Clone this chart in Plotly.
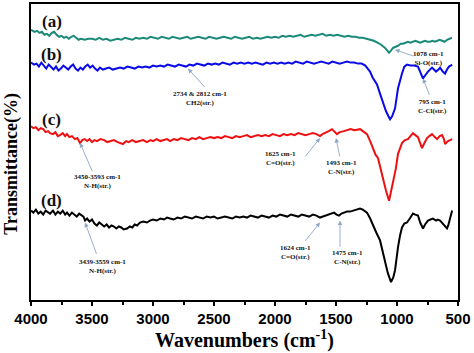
import plotly.graph_objects as go

# ---------------- data (transmittance in arbitrary offset units) ----------------
wn_a = [4000,3970,3950,3930,3910,3890,3870,3850,3830,3810,3790,3770,3750,3730,3710,3690,3670,3650,3630,3610,3590,3560,3530,3500,3470,3440,3410,3380,3350,3320,3290,3260,3230,3200,3170,3140,3110,3080,3050,3020,2990,2960,2930,2900,2870,2840,2810,2780,2750,2720,2690,2660,2630,2600,2570,2540,2510,2480,2450,2420,2390,2360,2330,2300,2270,2240,2210,2180,2150,2120,2090,2060,2030,2000,1970,1940,1910,1880,1850,1820,1790,1760,1730,1700,1670,1640,1610,1580,1550,1520,1490,1460,1430,1400,1370,1340,1310,1280,1250,1220,1190,1160,1130,1100,1080,1065,1050,1030,1010,990,970,950,930,910,890,870,850,830,810,790,770,750,730,710,690,670,650,630,610,590,570,550]
t_a = [272,270,271,269,270,267,268,266,269,270,267,265,266,264,265,263,265,266,264,262,263,262,263,263,262,264,262,263,261,262,263,262,264,263,262,264,263,264,263,265,264,263,265,264,263,265,264,263,264,265,263,264,265,264,263,265,264,263,264,265,264,263,265,264,263,264,265,263,264,263,264,265,264,265,264,266,265,266,265,266,267,265,266,267,266,267,268,266,267,266,267,266,265,266,265,265,264,264,263,262,261,259,257,254,251,249,251,254,255,256,258,258,259,260,259,260,261,260,259,260,261,260,260,261,260,261,262,261,260,262,263,264]

wn_b = [4000,3975,3955,3935,3915,3895,3875,3855,3835,3815,3795,3775,3755,3735,3715,3695,3675,3655,3635,3615,3595,3575,3555,3535,3515,3495,3475,3455,3435,3410,3385,3360,3330,3300,3270,3240,3210,3180,3150,3120,3090,3060,3030,3000,2970,2940,2910,2880,2850,2820,2790,2760,2730,2700,2670,2640,2610,2580,2550,2520,2490,2460,2430,2400,2370,2340,2310,2280,2250,2220,2190,2160,2130,2100,2070,2040,2010,1980,1950,1920,1890,1860,1830,1800,1770,1740,1710,1680,1650,1620,1590,1560,1530,1500,1470,1440,1410,1380,1350,1320,1290,1260,1240,1221,1200,1164,1140,1115,1090,1070,1057,1040,1016,992,975,959,940,918,890,860,828,810,787,770,746,713,695,680,660,647,625,606,590,574,560,548]
t_b = [239,237,238,235,239,236,233,237,234,232,235,231,233,236,234,232,235,237,233,231,234,232,235,237,234,236,233,231,234,232,233,234,232,233,234,233,235,234,233,235,234,235,234,236,235,236,235,237,236,235,237,236,235,237,236,238,237,236,238,237,238,237,239,238,237,239,238,239,238,239,238,239,238,237,239,238,239,238,239,238,239,238,240,239,238,240,239,238,239,240,239,238,240,239,238,239,240,239,239,238,238,236,233,230,224,217,208,198,190,185,182,185,193,213,222,228,235,237,236,236,235,230,223,226,230,234,232,230,232,234,230,228,232,235,236,237]

wn_c = [4000,3980,3960,3940,3920,3900,3880,3860,3844,3820,3800,3780,3762,3740,3720,3705,3685,3664,3640,3620,3598,3580,3560,3540,3520,3500,3480,3460,3430,3400,3375,3350,3320,3290,3260,3246,3220,3200,3170,3140,3110,3080,3050,3020,3000,2970,2940,2910,2885,2860,2830,2800,2770,2740,2710,2680,2650,2620,2590,2560,2530,2500,2470,2440,2410,2380,2350,2320,2290,2260,2230,2200,2170,2140,2110,2080,2050,2020,1990,1960,1930,1900,1870,1840,1810,1780,1750,1720,1690,1660,1631,1610,1590,1560,1533,1515,1492,1470,1450,1434,1410,1380,1350,1320,1303,1280,1246,1220,1197,1175,1156,1135,1115,1090,1065,1050,1033,1010,992,975,959,935,910,890,869,850,828,810,795,775,754,735,713,690,672,650,631,615,606,590,582,565,548]
t_c = [175,173,174,171,173,172,169,170,168,167,169,165,166,168,165,167,164,165,162,163,158,161,162,160,162,159,161,160,162,161,159,160,161,159,158,157,160,159,161,159,160,161,159,161,160,162,160,161,162,160,162,161,163,162,161,163,162,164,162,163,164,163,164,163,165,164,163,165,164,165,166,164,165,166,165,166,165,167,166,165,167,166,167,166,168,167,166,167,168,167,165,167,168,170,172,170,167,169,170,170,171,172,171,172,172,170,167,160,152,146,143,132,123,110,100,108,117,132,147,154,158,161,162,165,168,166,164,158,153,158,163,165,167,164,162,165,166,162,157,159,160,161,162]

wn_d = [4000,3980,3960,3940,3920,3900,3880,3860,3844,3820,3800,3780,3760,3740,3720,3705,3685,3665,3645,3625,3605,3585,3570,3557,3540,3520,3500,3480,3460,3440,3420,3400,3380,3360,3340,3320,3300,3280,3260,3240,3213,3190,3170,3150,3130,3107,3080,3050,3025,3000,2970,2940,2910,2885,2860,2830,2800,2770,2740,2710,2680,2650,2620,2590,2560,2530,2500,2470,2440,2410,2380,2350,2320,2290,2260,2230,2200,2170,2140,2110,2080,2050,2020,1990,1960,1930,1900,1870,1840,1810,1780,1750,1720,1690,1660,1631,1610,1590,1560,1540,1516,1495,1475,1455,1430,1410,1385,1360,1330,1303,1280,1246,1220,1197,1170,1139,1120,1098,1075,1049,1030,1016,1005,992,975,959,940,918,895,869,850,828,810,787,770,746,725,705,680,665,647,625,605,590,580,565,548]
t_d = [90,88,91,87,89,86,90,88,87,90,86,89,87,90,86,88,85,88,86,84,87,85,84,80,82,79,81,77,75,78,76,74,76,73,75,74,72,74,73,71,72,74,73,76,75,78,79,78,80,81,80,82,81,83,82,81,83,82,84,83,82,84,83,82,84,83,84,82,83,84,83,82,84,83,84,83,85,84,83,85,84,83,85,84,86,85,84,86,85,84,86,85,84,86,85,83,84,85,86,87,88,86,85,87,88,89,89,90,91,92,91,88,82,75,68,60,50,38,27,18,23,30,42,53,65,73,77,78,82,87,86,85,78,72,76,80,81,82,80,81,80,77,75,72,75,82,90]

series_names = ["(a)", "(b)", "(c)", "(d)"]
series_colors = ["#1b8a78", "#0a0ae8", "#ee1010", "#000000"]
label_y = [280, 247, 182, 100]

# annotations: (text, text_x, text_y, tail_x, tail_y, tip_x, tip_y)
notes = [
    ("2734 & 2812 cm-1<br>CH2(str.)", 2615, 203, 2566, 213, 2713, 233),
    ("1078 cm-1<br>Si-O(str.)", 745, 243, 852, 245, 1016, 252),
    ("795 cm-1<br>C-Cl(str.)", 713, 195, 729, 205, 787, 223),
    ("3450-3593 cm-1<br>N-H(str.)", 3451, 119, 3492, 128, 3598, 158),
    ("1625 cm-1<br>C=O(str.)", 1959, 142, 1762, 143, 1631, 163),
    ("1493 cm-1<br>C-N(str.)", 1451, 133, 1467, 143, 1500, 163),
    ("3439-3559 cm-1<br>N-H(str.)", 3418, 34, 3459, 45, 3557, 78),
    ("1624 cm-1<br>C=O(str.)", 1828, 48, 1762, 58, 1631, 78),
    ("1475 cm-1<br>C-N(str.)", 1402, 43, 1467, 52, 1467, 80),
]

xticks = [4000, 3500, 3000, 2500, 2000, 1500, 1000, 500]

fig = go.Figure()
for wn, t, c in zip([wn_a, wn_b, wn_c, wn_d], [t_a, t_b, t_c, t_d], series_colors):
    fig.add_trace(go.Scatter(x=wn, y=t, mode="lines", line=dict(color=c, width=2),
                             showlegend=False, hoverinfo="skip"))

ann = []
for name, ly in zip(series_names, label_y):
    ann.append(dict(x=3830, y=ly, xref="x", yref="y", text="<b>" + name + "</b>",
                    showarrow=False, font=dict(family="Liberation Serif", size=17, color="#111")))
arrow_col = "#8fa6c4"
for txt, tx, ty, ax, ay, px, py in notes:
    ann.append(dict(x=tx, y=ty, xref="x", yref="y", text="<b>" + txt + "</b>",
                    showarrow=False, font=dict(family="Liberation Serif", size=7, color="#111")))
    ann.append(dict(x=px, y=py, ax=ax, ay=ay, xref="x", yref="y", axref="x", ayref="y",
                    text="", showarrow=True, arrowhead=2, arrowsize=1, arrowwidth=0.9,
                    arrowcolor=arrow_col))

# y-axis title as a rotated annotation (sits a bit below the plot centre as in the reference)
ann.append(dict(x=-0.045, y=0.46, xref="paper", yref="paper", xanchor="center", yanchor="middle",
                text="<b>Transmittance(%)</b>", textangle=-90, showarrow=False,
                font=dict(family="Liberation Serif", size=18, color="black")))

fig.update_layout(
    width=474, height=353,
    margin=dict(l=31, r=16, t=2, b=53),
    paper_bgcolor="white", plot_bgcolor="white",
    annotations=ann,
    xaxis=dict(range=[4000, 500], tickmode="array", tickvals=xticks,
               ticktext=[str(v) for v in xticks],
               ticks="outside", ticklen=4, tickwidth=1.5, tickcolor="black",
               minor=dict(dtick=250, ticks="outside", ticklen=3, tickcolor="black", tickwidth=1.5),
               showline=True, linewidth=2, linecolor="black", mirror=True,
               showgrid=False, zeroline=False,
               tickfont=dict(family="Liberation Sans", size=15, color="black", weight="bold"),
               title=dict(text="<b>Wavenumbers (cm<sup>-1</sup>)</b>", standoff=6,
                          font=dict(family="Liberation Serif", size=20, color="black"))),
    yaxis=dict(range=[0, 298], showticklabels=False, ticks="",
               showline=True, linewidth=2, linecolor="black", mirror=True,
               showgrid=False, zeroline=False),
)

fig.write_html("out.html")
